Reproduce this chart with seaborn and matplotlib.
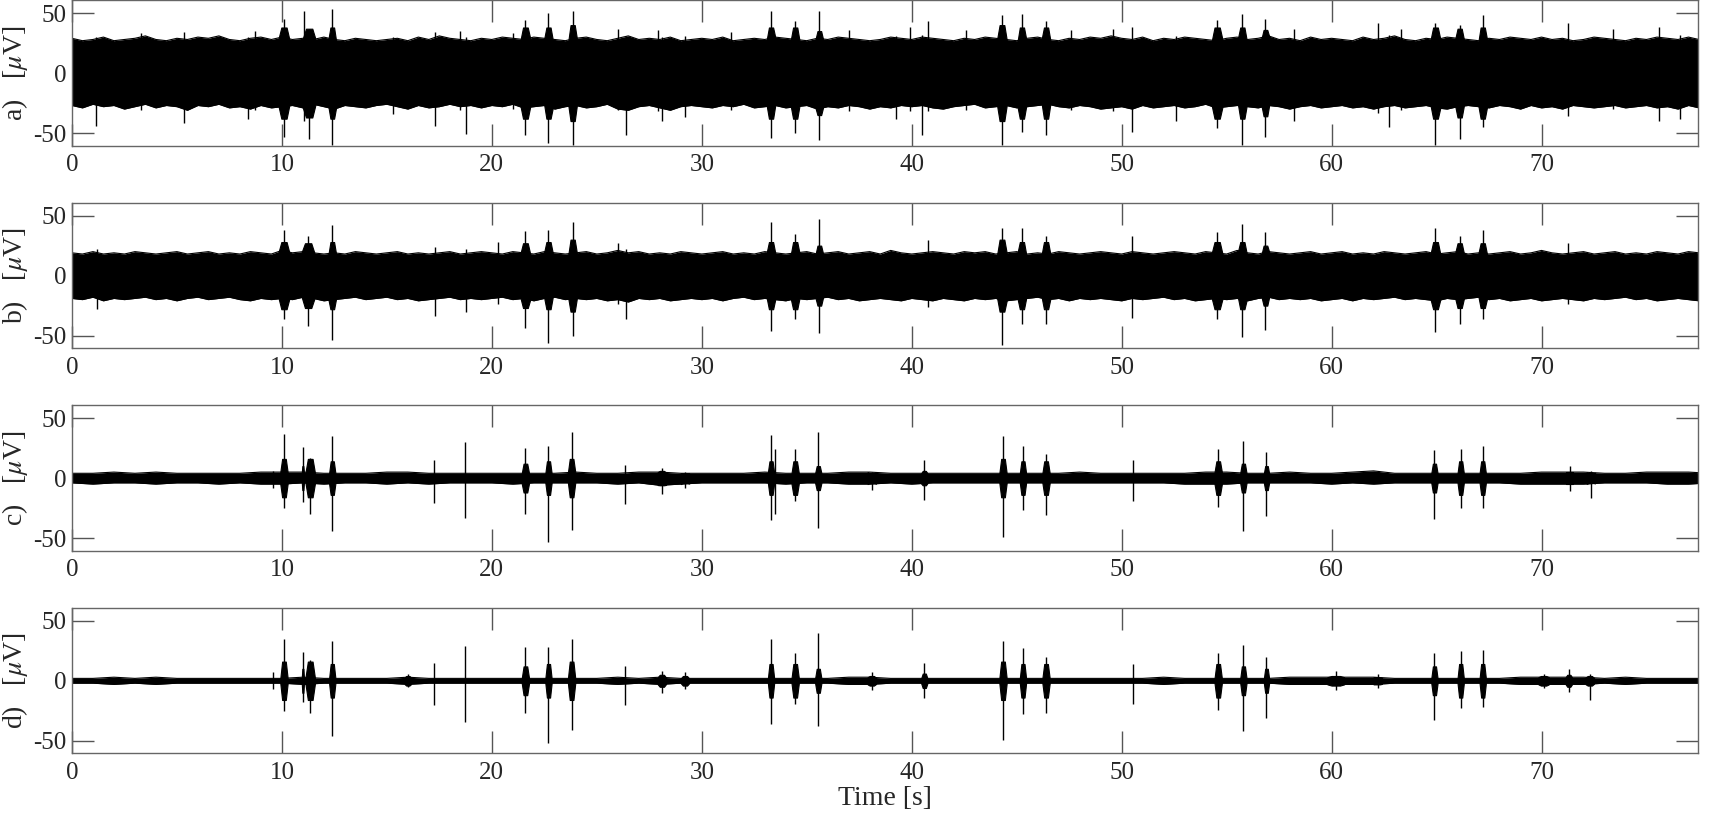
import numpy as np
import matplotlib
matplotlib.use("Agg")
import matplotlib.pyplot as plt
import seaborn as sns

sns.set_style("ticks")
plt.rcParams['font.family'] = ['Liberation Serif', 'DejaVu Serif']
plt.rcParams['mathtext.fontset'] = 'stix'
plt.rcParams['axes.unicode_minus'] = False

# baseline envelopes, panels a and b read every 0.5 s, panels c and d every 1 s
env_t = np.arange(0, 78, 0.5)
env_t1 = np.arange(0, 79, 1.0)

a_hi = np.array([29, 27, 28, 30, 27, 28, 29, 31, 28, 27, 29, 28, 30, 29, 31, 28, 27, 29, 30, 28,
                 30, 28, 29, 28, 30, 28, 27, 29, 28, 27, 28, 29, 27, 30, 28, 31, 29, 28, 27, 29,
                 28, 30, 29, 28, 30, 29, 28, 27, 29, 30, 28, 27, 29, 31, 28, 29, 28, 30, 27, 28,
                 29, 28, 30, 27, 28, 29, 28, 30, 29, 28, 27, 29, 28, 30, 29, 28, 27, 28, 30, 29,
                 28, 30, 29, 28, 27, 29, 28, 30, 29, 28, 27, 29, 30, 28, 27, 29, 28, 30, 29, 31,
                 29, 28, 30, 27, 29, 28, 30, 29, 28, 27, 29, 30, 28, 29, 31, 28, 29, 27, 30, 28,
                 29, 28, 27, 30, 28, 29, 31, 28, 27, 29, 28, 30, 29, 28, 27, 29, 28, 30, 29, 28,
                 30, 28, 29, 27, 28, 30, 29, 28, 27, 29, 28, 30, 29, 28, 30, 28])
a_lo = np.array([-27, -29, -26, -28, -27, -30, -28, -26, -29, -27, -28, -31, -27, -28, -26, -29, -28, -30, -27, -29,
                 -28, -27, -29, -26, -28, -30, -27, -28, -29, -27, -26, -28, -30, -27, -29, -28, -26, -28, -27, -29,
                 -27, -28, -26, -29, -28, -27, -30, -28, -27, -29, -28, -26, -30, -31, -28, -27, -29, -31, -28, -27,
                 -28, -29, -27, -28, -26, -29, -28, -27, -29, -28, -27, -30, -28, -29, -27, -28, -30, -28, -29, -27,
                 -28, -27, -29, -30, -28, -27, -26, -29, -28, -27, -29, -28, -27, -26, -28, -29, -27, -28, -30, -29,
                 -28, -30, -27, -29, -28, -27, -29, -28, -26, -29, -28, -27, -28, -29, -27, -28, -30, -28, -27, -29,
                 -28, -27, -29, -28, -30, -28, -27, -29, -28, -27, -29, -30, -28, -27, -28, -29, -27, -28, -30, -27,
                 -29, -28, -30, -27, -28, -29, -28, -27, -29, -28, -27, -29, -28, -30, -27, -29])

b_hi = np.array([19, 18, 20, 18, 19, 18, 20, 19, 18, 19, 20, 18, 19, 20, 18, 19, 18, 20, 19, 18,
                 21, 19, 20, 19, 18, 19, 18, 20, 19, 18, 19, 20, 18, 19, 18, 19, 20, 18, 19, 20,
                 19, 18, 20, 19, 18, 20, 19, 18, 19, 20, 18, 19, 21, 19, 20, 18, 19, 18, 20, 19,
                 18, 19, 20, 18, 19, 18, 20, 19, 18, 19, 20, 18, 19, 20, 18, 19, 20, 18, 21, 19,
                 18, 19, 20, 19, 18, 20, 19, 20, 18, 19, 20, 18, 19, 18, 20, 19, 18, 19, 20, 19,
                 18, 20, 19, 18, 19, 20, 19, 18, 20, 19, 18, 21, 19, 18, 20, 19, 18, 19, 20, 18,
                 19, 20, 18, 19, 18, 20, 19, 18, 19, 20, 18, 19, 20, 18, 19, 18, 19, 20, 18, 19,
                 21, 19, 18, 19, 20, 18, 19, 20, 18, 19, 18, 20, 19, 18, 20, 19])
b_lo = np.array([-19, -20, -18, -21, -19, -20, -19, -18, -20, -19, -21, -19, -18, -20, -19, -18, -20, -21, -19, -20,
                 -19, -20, -18, -19, -21, -20, -19, -18, -20, -19, -18, -20, -19, -21, -20, -19, -18, -20, -19, -20,
                 -19, -18, -20, -19, -21, -19, -18, -20, -19, -20, -19, -21, -20, -22, -19, -20, -19, -21, -20, -19,
                 -20, -19, -21, -19, -18, -20, -19, -20, -21, -19, -20, -19, -18, -20, -19, -21, -20, -19, -20, -21,
                 -19, -20, -21, -19, -20, -21, -19, -20, -19, -21, -20, -19, -18, -20, -19, -21, -19, -20, -19, -20,
                 -21, -19, -20, -19, -18, -20, -19, -21, -20, -19, -20, -19, -21, -19, -18, -20, -19, -20, -19, -21,
                 -20, -19, -21, -19, -20, -19, -18, -20, -19, -20, -21, -19, -20, -19, -18, -20, -19, -21, -20, -19,
                 -21, -20, -19, -20, -21, -19, -20, -19, -18, -20, -19, -21, -20, -19, -20, -21])

c_hi = np.array([4, 4, 5, 4, 5, 4, 4, 4, 4, 5, 5, 5, 4, 4, 4, 5, 5, 4, 4, 4,
                 4, 4, 4, 4, 5, 4, 4, 5, 5, 4, 4, 4, 4, 5, 4, 4, 4, 5, 5, 4,
                 4, 4, 4, 4, 4, 4, 4, 4, 5, 4, 4, 4, 4, 4, 5, 5, 4, 4, 5, 4,
                 4, 5, 6, 4, 4, 4, 4, 4, 4, 4, 5, 5, 5, 4, 4, 5, 5, 5, 4])
c_lo = np.array([-4, -5, -4, -4, -5, -4, -4, -5, -4, -5, -5, -4, -5, -4, -4, -5, -4, -5, -4, -4,
                 -4, -5, -4, -4, -4, -4, -5, -4, -6, -5, -4, -4, -4, -4, -5, -4, -4, -5, -5, -4,
                 -5, -4, -4, -4, -4, -4, -4, -4, -4, -4, -4, -4, -4, -5, -5, -5, -4, -4, -4, -4,
                 -5, -4, -5, -4, -4, -4, -4, -4, -4, -5, -5, -5, -5, -4, -4, -4, -5, -5, -4])

d_hi = np.array([2, 2, 3, 2, 3, 2, 2, 2, 2, 2, 2, 3, 2, 2, 2, 2, 3, 2, 2, 2,
                 2, 2, 2, 2, 2, 2, 3, 2, 3, 2, 2, 2, 2, 2, 2, 2, 2, 3, 3, 2,
                 2, 2, 2, 2, 2, 2, 2, 2, 2, 2, 2, 2, 3, 2, 2, 2, 2, 2, 3, 3,
                 3, 3, 3, 2, 2, 2, 2, 2, 2, 3, 3, 3, 3, 2, 3, 2, 2, 2, 2])
d_lo = np.array([-2, -2, -3, -2, -3, -2, -2, -2, -2, -2, -2, -3, -2, -2, -2, -2, -3, -2, -2, -2,
                 -2, -2, -2, -2, -2, -2, -3, -2, -3, -2, -2, -2, -2, -2, -2, -2, -2, -3, -3, -2,
                 -2, -2, -2, -2, -2, -2, -2, -2, -2, -2, -2, -2, -3, -2, -2, -2, -2, -2, -3, -3,
                 -3, -3, -3, -2, -2, -2, -2, -2, -2, -3, -3, -3, -3, -2, -3, -2, -2, -2, -2])

# events: time [s], max [uV], min [uV], burst body amplitude [uV], burst duration [s] (0 = single spike)
a_ev_t = [10.1, 11.05, 11.3, 12.4, 21.6, 22.7, 23.85, 33.3, 34.45, 35.6, 44.3, 45.25, 46.4,
          54.55, 55.75, 56.85, 64.95, 66.1, 67.2,
          1.16, 3.3, 5.36, 8.4, 8.7, 15.3, 17.3, 18.5, 18.75, 21.0, 26.0, 26.4, 27.9, 28.1, 29.2,
          31.4, 37.0, 39.25, 39.9, 40.5, 40.8, 42.6, 47.6, 49.6, 50.5, 52.6, 58.2, 62.2, 62.75,
          63.3, 71.25, 73.4, 75.6, 76.6]
a_ev_hi = [45, 52, 37, 53, 44, 50, 52, 52, 43, 52, 48, 49, 43, 44, 49, 45, 42, 40, 48,
           30, 33, 34, 30, 35, 30, 34, 35, 30, 33, 37, 31, 36, 30, 31,
           34, 36, 31, 38, 32, 43, 36, 36, 37, 38, 31, 37, 42, 32,
           37, 42, 37, 38, 32]
a_ev_lo = [-53, -40, -55, -60, -52, -58, -60, -54, -50, -56, -60, -49, -52, -46, -60, -53, -60, -55, -45,
           -44, -31, -42, -38, -31, -34, -44, -31, -51, -30, -31, -52, -32, -40, -37,
           -31, -32, -38, -32, -52, -32, -31, -31, -32, -49, -40, -40, -33, -45,
           -31, -36, -30, -40, -38]
a_ev_body = [38, 0, 37, 38, 38, 38, 40, 38, 38, 35, 40, 38, 38, 38, 38, 36, 38, 37, 38] + [0] * 34
a_ev_w = [0.5, 0, 0.6, 0.35, 0.45, 0.4, 0.4, 0.4, 0.4, 0.35, 0.45, 0.4, 0.4, 0.5, 0.4, 0.35, 0.45, 0.4, 0.4] + [0] * 34

b_ev_t = [10.1, 11.25, 12.4, 21.6, 22.7, 23.85, 33.3, 34.45, 35.6, 44.3, 45.25, 46.4,
          54.55, 55.75, 56.85, 64.95, 66.1, 67.2,
          1.2, 17.3, 18.75, 20.3, 26.0, 26.4, 40.8, 50.5, 71.25]
b_ev_hi = [38, 33, 42, 37, 38, 45, 45, 35, 47, 40, 40, 33, 36, 43, 36, 40, 33, 38,
           22, 24, 22, 28, 27, 22, 30, 33, 27]
b_ev_lo = [-36, -42, -54, -44, -56, -50, -46, -36, -48, -58, -40, -40, -36, -51, -45, -47, -40, -36,
           -28, -34, -30, -24, -24, -36, -26, -35, -24]
b_ev_body = [28, 27, 28, 27, 28, 30, 28, 28, 25, 30, 28, 28, 28, 28, 25, 28, 27, 27] + [0] * 9
b_ev_w = [0.5, 0.6, 0.35, 0.45, 0.4, 0.4, 0.4, 0.4, 0.35, 0.45, 0.4, 0.4, 0.5, 0.4, 0.35, 0.45, 0.4, 0.4] + [0] * 9

c_ev_t = [10.1, 11.0, 11.35, 12.4, 21.6, 22.7, 23.8, 33.3, 33.5, 34.45, 35.55, 44.35, 45.3, 46.4,
          54.6, 55.8, 56.9, 64.9, 66.15, 67.2,
          9.6, 17.26, 18.74, 26.35, 28.1, 29.2, 38.1, 40.6, 50.53, 71.34, 72.35]
c_ev_hi = [37, 26, 17, 35, 25, 27, 38, 36, 24, 24, 38, 35, 27, 20, 24, 31, 22, 23, 24, 27,
           6, 15, 30, 11, 8, 5, 5, 15, 15, 10, 6]
c_ev_lo = [-25, -20, -30, -44, -30, -53, -43, -35, -30, -19, -42, -49, -27, -31, -24, -44, -32, -34, -25, -25,
           -8, -21, -33, -22, -13, -8, -10, -18, -19, -11, -17]
c_ev_body = [16, 10, 16, 14, 12, 14, 16, 14, 0, 14, 10, 16, 14, 14, 14, 12, 10, 12, 14, 14,
             0, 0, 0, 0, 6, 4, 4, 6, 0, 5, 4]
c_ev_w = [0.35, 0.1, 0.45, 0.3, 0.35, 0.3, 0.35, 0.3, 0, 0.35, 0.3, 0.35, 0.3, 0.35, 0.35, 0.3, 0.25, 0.3, 0.3, 0.3,
          0, 0, 0, 0, 0.4, 0.4, 0.4, 0.3, 0, 0.3, 0.4]

d_ev_t = [10.1, 11.0, 11.35, 12.4, 21.6, 22.7, 23.8, 33.3, 34.45, 35.55, 44.35, 45.3, 46.4,
          54.6, 55.8, 56.9, 64.9, 66.15, 67.2,
          9.6, 16.0, 17.26, 18.74, 26.35, 28.1, 29.2, 38.1, 40.6, 50.53, 60.2, 62.2, 70.1, 71.3, 72.3]
d_ev_hi = [35, 24, 17, 33, 28, 28, 35, 35, 23, 40, 33, 27, 20, 23, 30, 20, 23, 25, 26,
           7, 6, 15, 29, 12, 8, 7, 7, 15, 14, 8, 6, 6, 10, 6]
d_ev_lo = [-25, -18, -27, -46, -27, -52, -41, -36, -19, -38, -49, -28, -27, -24, -42, -31, -33, -23, -22,
           -7, -5, -20, -34, -20, -10, -7, -8, -14, -19, -8, -6, -6, -9, -16]
d_ev_body = [16, 10, 16, 14, 12, 14, 16, 14, 14, 10, 16, 14, 14, 14, 12, 10, 12, 14, 14,
             0, 4, 0, 0, 0, 5, 4, 4, 6, 0, 4, 3, 4, 5, 4]
d_ev_w = [0.35, 0.1, 0.45, 0.3, 0.35, 0.3, 0.35, 0.3, 0.35, 0.3, 0.35, 0.3, 0.35, 0.35, 0.3, 0.25, 0.3, 0.3, 0.3,
          0, 0.3, 0, 0, 0, 0.4, 0.4, 0.4, 0.3, 0, 0.8, 0.4, 0.5, 0.3, 0.4]

panel_labels = ["a)", "b)", "c)", "d)"]
x_ticks = [0, 10, 20, 30, 40, 50, 60, 70]
y_ticks = [-50, 0, 50]

panels = [
    (env_t, a_hi, a_lo, a_ev_t, a_ev_hi, a_ev_lo, a_ev_body, a_ev_w),
    (env_t, b_hi, b_lo, b_ev_t, b_ev_hi, b_ev_lo, b_ev_body, b_ev_w),
    (env_t1, c_hi, c_lo, c_ev_t, c_ev_hi, c_ev_lo, c_ev_body, c_ev_w),
    (env_t1, d_hi, d_lo, d_ev_t, d_ev_hi, d_ev_lo, d_ev_body, d_ev_w),
]

fig = plt.figure(figsize=(17.25, 8.24), dpi=100)
left, width, height = 0.0417, 0.9426, 0.1762
bottoms = [0.8232, 0.5774, 0.3317, 0.0857]

for i, (tt, hi, lo, ev_t, ev_hi, ev_lo, ev_body, ev_w) in enumerate(panels):
    ax = fig.add_axes([left, bottoms[i], width, height])
    ax.fill_between(tt, lo, hi, color="black", lw=0)
    sns.lineplot(x=tt, y=hi, ax=ax, color="black", lw=0.8, estimator=None, sort=False)
    sns.lineplot(x=tt, y=lo, ax=ax, color="black", lw=0.8, estimator=None, sort=False)
    for t, h, l, b, w in zip(ev_t, ev_hi, ev_lo, ev_body, ev_w):
        if w > 0:
            xs = [t - w / 2, t - w / 4, t + w / 4, t + w / 2]
            up = [np.interp(t - w / 2, tt, hi), b, b, np.interp(t + w / 2, tt, hi)]
            dn = [np.interp(t - w / 2, tt, lo), -b, -b, np.interp(t + w / 2, tt, lo)]
            ax.fill_between(xs, dn, up, color="black", lw=0.8)
        ax.vlines(t, l, h, color="black", lw=1.0)

    ax.set_xlim(0, 77.45)
    ax.set_ylim(-60.5, 60.5)
    ax.set_xticks(x_ticks)
    ax.set_yticks(y_ticks)
    ax.tick_params(direction="in", length=16, width=1, color="#555555",
                   top=True, right=True, labelsize=18, pad=4)
    ax.tick_params(axis="x", pad=6)
    for sp in ax.spines.values():
        sp.set_color("#666666")
        sp.set_linewidth(1)
    ax.set_ylabel(panel_labels[i] + r"   [$\mu$V]", fontsize=20, labelpad=2)
    if i == 3:
        ax.set_xlabel("Time [s]", fontsize=20, labelpad=2)

fig.savefig("out.png", dpi=100)
